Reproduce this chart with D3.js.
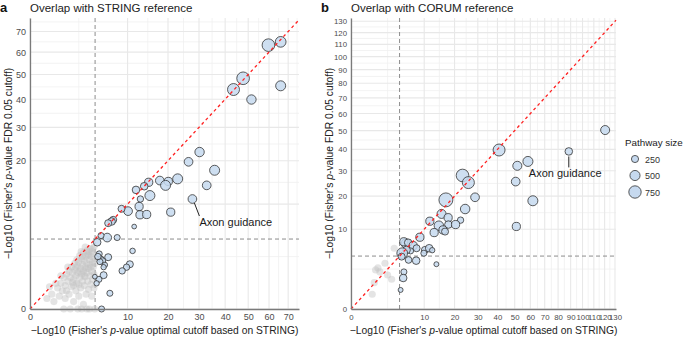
<!DOCTYPE html>
<html>
<head>
<meta charset="utf-8">
<script src="https://cdn.jsdelivr.net/npm/d3@7"></script>
<style>
  body { margin: 0; background: #fff; }
  text { font-family: "Liberation Sans", Arial, sans-serif; }
</style>
</head>
<body>
<div id="chart"></div>
<script>
// ---- data ----
var ticksA = [0, 10, 20, 30, 40, 50, 60, 70];
var ticksB = [0, 10, 20, 30, 40, 50, 60, 70, 80, 90, 100, 110, 120, 130];
var cutoffA = 4.45, cutoffB = 4.4;
var legendSizes = [250, 500, 750];

// [x, y, pathway size]
var stringPoints = [
  [59.7, 63.3, 780], [66.0, 64.9, 560], [47.7, 48.4, 780], [43.5, 43.8, 700],
  [66.0, 45.3, 490], [51.5, 39.9, 430], [30.2, 22.4, 430], [26.4, 19.7, 370],
  [35.8, 17.5, 490], [17.7, 15.0, 370], [20.1, 14.8, 330], [22.9, 15.4, 490],
  [19.3, 13.9, 490], [32.8, 13.9, 370], [14.8, 14.6, 330], [13.7, 13.7, 280],
  [11.8, 12.9, 280], [15.1, 11.7, 490], [12.8, 11.0, 200], [27.7, 11.0, 370],
  [12.5, 9.55, 330], [12.7, 8.07, 330], [14.3, 8.12, 330], [20.8, 8.53, 330],
  [11.4, 6.18, 110], [10.1, 8.71, 370], [8.8, 9.13, 240], [7.27, 7.23, 240],
  [6.99, 6.96, 280], [6.42, 6.70, 240], [7.98, 4.64, 180], [6.26, 4.64, 370],
  [5.3, 4.9, 180], [4.74, 4.05, 280], [11.05, 3.07, 150], [5.03, 2.76, 180],
  [6.42, 2.44, 240], [5.28, 2.25, 200], [5.53, 2.10, 200], [5.13, 2.04, 180],
  [5.89, 1.77, 140], [5.69, 1.59, 140], [10.47, 1.82, 240], [9.79, 1.59, 200],
  [8.92, 1.32, 200], [5.69, 1.04, 240], [4.99, 0.80, 180], [4.66, 0.60, 140],
  [4.42, 0.95, 110], [6.70, 0.225, 180], [5.38, 0.0, 180], [4.84, 2.5, 200]
];
// [x, y] not significant
var stringGray = [
  [0.3, 0.1], [0.5, 0.2], [0.6, 0.05], [0.8, 0.4], [0.9, 0.15], [1.0, 0.6], [1.1, 0.3],
  [1.2, 0.9], [1.3, 0.5], [1.3, 0.1], [1.4, 1.1], [1.5, 0.7], [1.6, 0.2], [1.6, 1.3],
  [1.7, 0.9], [1.8, 0.45], [1.8, 1.6], [1.9, 1.2], [2.0, 0.05], [2.0, 0.8], [2.1, 1.9],
  [2.1, 1.4], [2.2, 0.3], [2.2, 1.0], [2.3, 2.2], [2.3, 0.6], [2.4, 1.7], [2.4, 1.2],
  [2.5, 0.15], [2.5, 2.0], [2.6, 0.9], [2.6, 2.6], [2.7, 1.5], [2.7, 0.4], [2.8, 2.3],
  [2.8, 1.1], [2.9, 0.7], [2.9, 1.8], [3.0, 0.02], [3.0, 2.9], [3.0, 1.3], [3.1, 2.1],
  [3.1, 0.5], [3.2, 1.6], [3.2, 0.95], [3.3, 2.5], [3.3, 0.2], [3.4, 3.1], [3.4, 1.2],
  [3.4, 1.9], [3.5, 0.7], [3.5, 2.7], [3.6, 0.35], [3.6, 1.5], [3.7, 2.2], [3.7, 0.0],
  [3.8, 1.0], [3.8, 3.3], [3.8, 1.8], [3.9, 0.55], [3.9, 2.5], [4.0, 1.3], [4.0, 0.15],
  [4.0, 3.0], [4.1, 2.0], [4.1, 0.8], [4.2, 1.6], [4.2, 2.8], [4.3, 0.4], [4.3, 1.1],
  [4.3, 3.5], [4.4, 2.3], [4.4, 0.0], [4.4, 1.9], [1.2, 0.0], [1.7, 0.0], [2.4, 0.0],
  [2.8, 0.0], [3.4, 0.0], [2.0, 0.5], [2.6, 1.3], [3.1, 1.0], [3.6, 2.6], [1.9, 0.65],
  [2.5, 0.55], [3.3, 1.45], [3.9, 1.6], [2.2, 1.6], [2.9, 2.5], [3.6, 3.0], [4.1, 3.3],
  [1.4, 0.3], [0.7, 0.6], [2.75, 3.0], [3.2, 3.5], [1.0, 1.0], [0.4, 0.45], [1.5, 1.6]
];

var corumPoints = [
  [120.5, 50.3, 400], [88.5, 39.0, 280], [40.9, 39.7, 700], [58.4, 34.2, 490],
  [51.6, 32.2, 400], [23.2, 28.0, 780], [25.7, 25.1, 700], [50.6, 25.5, 370],
  [61.7, 18.4, 490], [51.0, 10.7, 330], [28.7, 19.6, 370], [16.8, 18.7, 950],
  [24.3, 15.7, 440], [15.3, 14.2, 400], [17.6, 13.1, 330], [22.4, 12.4, 200],
  [11.6, 12.1, 330], [14.4, 10.9, 440], [17.7, 11.2, 280], [20.4, 11.2, 330],
  [15.8, 9.83, 330], [16.5, 9.41, 240], [12.9, 9.17, 330], [8.85, 8.09, 330],
  [5.62, 6.72, 440], [5.2, 7.1, 330], [6.1, 6.9, 280], [7.21, 6.31, 330],
  [8.02, 5.80, 240], [6.62, 5.30, 180], [5.76, 5.48, 280], [4.89, 4.89, 560],
  [4.78, 4.31, 240], [10.2, 5.48, 240], [11.4, 5.80, 280], [12.3, 5.43, 140],
  [9.9, 4.89, 180], [6.18, 3.78, 220], [7.92, 3.67, 280], [13.6, 3.15, 120],
  [5.22, 2.16, 180], [5.08, 1.51, 280], [4.59, 0.57, 120]
];
var corumGray = [
  [3.48, 5.80], [1.13, 2.40], [2.15, 3.29], [3.08, 1.39], [1.01, 1.09],
  [0.84, 0.34], [2.50, 1.82], [1.35, 2.65], [1.56, 2.16]
];

// ---- layout ----
var width = 685, height = 337;
var svg = d3.select("#chart").append("svg")
  .attr("width", width).attr("height", height);

var size = d3.scaleSqrt().domain([0, 800]).range([0, 6.4]);

function italicP(sel, before, after) {
  sel.append("tspan").text(before);
  sel.append("tspan").attr("font-style", "italic").text("p");
  sel.append("tspan").text(after);
}

function drawPanel(o) {
  var x = d3.scaleSqrt().domain([0, o.xMax]).range([o.left, o.right]);
  var y = d3.scaleSqrt().domain([0, o.yMax]).range([o.bottom, o.top]);

  // minor breaks sit half way between the majors in sqrt space
  function minors(ticks, max) {
    var m = [], step = ticks[1] - ticks[0];
    for (var i = 0; i < ticks.length; i++) {
      var a = ticks[i], b = a + step;
      var mid = Math.pow((Math.sqrt(a) + Math.sqrt(b)) / 2, 2);
      if (mid < max) m.push(mid);
    }
    return m;
  }

  var g = svg.append("g");
  var grid = g.append("g");
  grid.selectAll(".vmin").data(minors(o.ticks, o.xMax)).enter().append("line")
    .attr("x1", x).attr("x2", x).attr("y1", o.top).attr("y2", o.bottom)
    .attr("stroke", "#f0f0f0").attr("stroke-width", 0.8);
  grid.selectAll(".hmin").data(minors(o.ticks, o.yMax)).enter().append("line")
    .attr("y1", y).attr("y2", y).attr("x1", o.left).attr("x2", o.right)
    .attr("stroke", "#f0f0f0").attr("stroke-width", 0.8);
  grid.selectAll(".vmaj").data(o.ticks).enter().append("line")
    .attr("x1", x).attr("x2", x).attr("y1", o.top).attr("y2", o.bottom)
    .attr("stroke", "#e8e8e8").attr("stroke-width", 1.1);
  grid.selectAll(".hmaj").data(o.ticks).enter().append("line")
    .attr("y1", y).attr("y2", y).attr("x1", o.left).attr("x2", o.right)
    .attr("stroke", "#e8e8e8").attr("stroke-width", 1.1);

  // cutoff lines
  g.append("line")
    .attr("x1", x(o.cutoff)).attr("x2", x(o.cutoff)).attr("y1", o.top).attr("y2", o.bottom)
    .attr("stroke", "#8c8c8c").attr("stroke-width", 1).attr("stroke-dasharray", "4,3");
  g.append("line")
    .attr("y1", y(o.cutoff)).attr("y2", y(o.cutoff)).attr("x1", o.left).attr("x2", o.right)
    .attr("stroke", "#8c8c8c").attr("stroke-width", 1).attr("stroke-dasharray", "4,3");

  // grey points
  g.append("g").selectAll("circle").data(o.gray).enter().append("circle")
    .attr("cx", function(d) { return x(d[0]); })
    .attr("cy", function(d) { return y(d[1]); })
    .attr("r", size(250))
    .attr("fill", "#c4c4c4").attr("fill-opacity", 0.45);

  // pathways
  g.append("g").selectAll("circle").data(o.points).enter().append("circle")
    .attr("cx", function(d) { return x(d[0]); })
    .attr("cy", function(d) { return y(d[1]); })
    .attr("r", function(d) { return size(d[2]); })
    .attr("fill", "#c6d9ef").attr("fill-opacity", 0.85)
    .attr("stroke", "#333").attr("stroke-width", 0.8);

  // y = x
  var m = Math.min(o.xMax, o.yMax);
  g.append("line")
    .attr("x1", x(0)).attr("y1", y(0)).attr("x2", x(m)).attr("y2", y(m))
    .attr("stroke", "#ff2020").attr("stroke-width", 1.3).attr("stroke-dasharray", "3,3");

  // axes
  var ax = g.append("g").attr("transform", "translate(0," + o.bottom + ")")
    .call(d3.axisBottom(x).tickValues(o.ticks).tickSize(0).tickPadding(5));
  var ay = g.append("g").attr("transform", "translate(" + o.left + ",0)")
    .call(d3.axisLeft(y).tickValues(o.ticks).tickSize(0).tickPadding(4));
  [ax, ay].forEach(function(a) {
    a.select(".domain").attr("stroke", "#7a7a7a").attr("stroke-width", 1.3);
    a.selectAll("text").attr("fill", "#4d4d4d").attr("font-size", o.tickFont)
      .attr("font-family", "Liberation Sans, Arial, sans-serif");
  });

  // annotation
  var p = o.points[o.labelIndex];
  g.append("line")
    .attr("x1", x(p[0]) + o.lab.x1).attr("y1", y(p[1]) + o.lab.y1)
    .attr("x2", x(p[0]) + o.lab.x2).attr("y2", y(p[1]) + o.lab.y2)
    .attr("stroke", "#222").attr("stroke-width", 1);
  g.append("text")
    .attr("x", x(p[0]) + o.lab.tx).attr("y", y(p[1]) + o.lab.ty)
    .attr("font-size", 11).attr("fill", "#1a1a1a").text("Axon guidance");

  // titles
  svg.append("text").attr("x", o.tagX).attr("y", 12)
    .attr("font-size", 13).attr("font-weight", "bold").attr("fill", "#111").text(o.tag);
  svg.append("text").attr("x", o.left).attr("y", 12)
    .attr("font-size", 11.5).attr("fill", "#222").text(o.title);
  svg.append("text")
    .attr("x", (o.left + o.right) / 2).attr("y", 334)
    .attr("text-anchor", "middle").attr("font-size", 10.3).attr("fill", "#222")
    .call(italicP, "\u2212Log10 (Fisher's ", "-value optimal cutoff based on STRING)");
  svg.append("text")
    .attr("transform", "translate(" + o.yTitleX + "," + ((o.top + o.bottom) / 2) + ") rotate(-90)")
    .attr("text-anchor", "middle").attr("font-size", 10.3).attr("fill", "#222")
    .call(italicP, "\u2212Log10 (Fisher's ", "-value FDR 0.05 cutoff)");
}

drawPanel({
  tag: "a", tagX: 0, title: "Overlap with STRING reference",
  left: 30, right: 299, top: 18, bottom: 309, xMax: 76, yMax: 77,
  ticks: ticksA, cutoff: cutoffA, points: stringPoints, gray: stringGray,
  tickFont: 9, yTitleX: 12, labelIndex: 19,
  lab: { x1: 2, y1: 4, x2: 7, y2: 17, tx: 7, ty: 27 }
});
drawPanel({
  tag: "b", tagX: 321, title: "Overlap with CORUM reference",
  left: 351, right: 616, top: 18, bottom: 309, xMax: 131, yMax: 133,
  ticks: ticksB, cutoff: cutoffB, points: corumPoints, gray: corumGray,
  tickFont: 7.8, yTitleX: 333, labelIndex: 1,
  lab: { x1: 0, y1: 5, x2: 0, y2: 16, tx: -40, ty: 26 }
});

// legend
var leg = svg.append("g").attr("transform", "translate(625,0)");
leg.append("text").attr("x", 0).attr("y", 146)
  .attr("font-size", 9.8).attr("fill", "#222").text("Pathway size");
var rows = leg.selectAll(".row").data(legendSizes).enter().append("g")
  .attr("transform", function(d, i) { return "translate(10," + (159 + i * 16.5) + ")"; });
rows.append("circle").attr("r", function(d) { return size(d); })
  .attr("fill", "#c6d9ef").attr("stroke", "#333").attr("stroke-width", 0.8);
rows.append("text").attr("x", 10).attr("y", 3.5)
  .attr("font-size", 9).attr("fill", "#333").text(function(d) { return d; });
</script>
</body>
</html>
